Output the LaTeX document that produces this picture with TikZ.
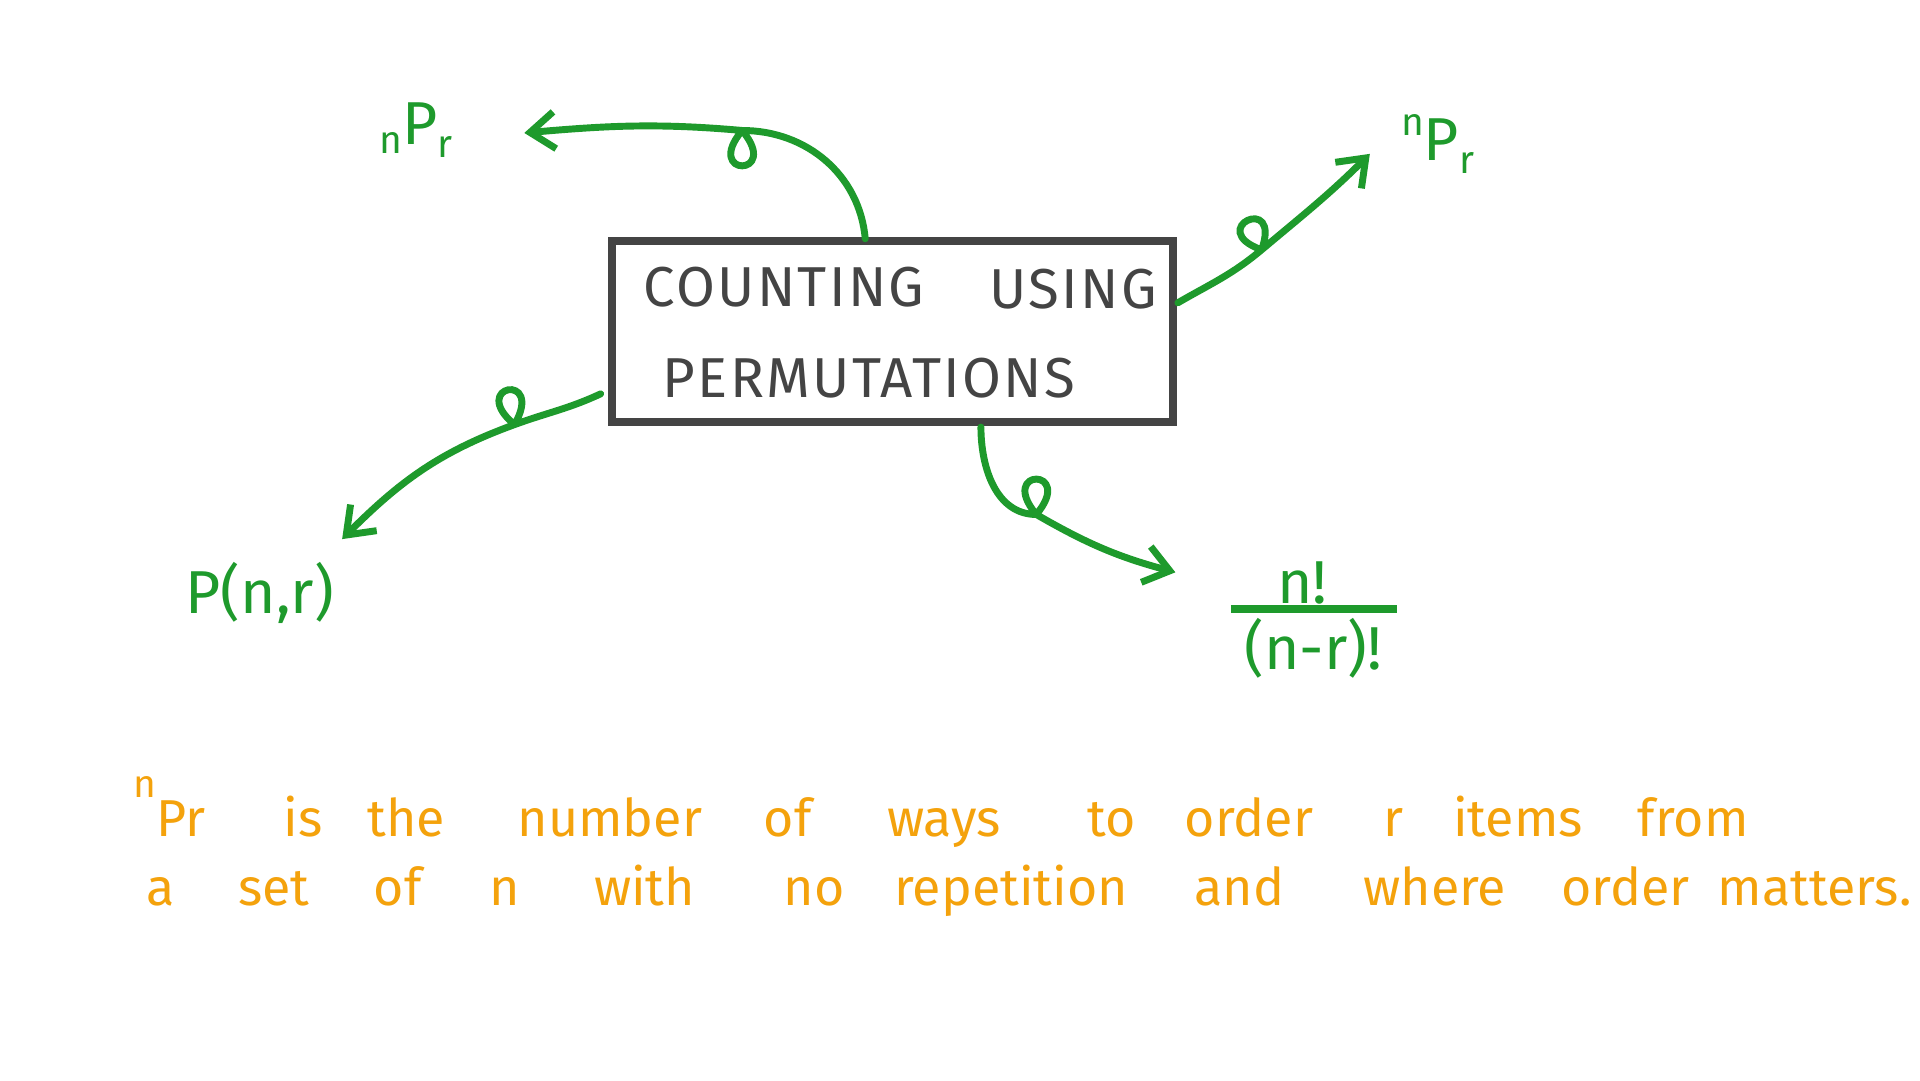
\documentclass[tikz,border=0pt]{standalone}
\usepackage{fontspec}
\setmainfont{Fira Sans}
\usetikzlibrary{arrows.meta}
\definecolor{gr}{HTML}{1E9A2C}
\definecolor{orng}{HTML}{F4A20C}
\definecolor{boxgray}{HTML}{444444}
\tikzset{
  conn/.style={gr, line width=1.6pt, line cap=round, -{Straight Barb[length=2mm,width=3mm]}},
  lbl/.style={gr, font=\fontsize{14}{16}\selectfont},
  boxtxt/.style={boxgray, font=\fontsize{13}{15}\selectfont\addfontfeature{LetterSpace=4}},
  word/.style={orng, anchor=base west, inner sep=0pt, font=\fontsize{12}{14}\selectfont},
  lp/.style={min distance=5mm}
}
\begin{document}
\begin{tikzpicture}[x=0.01cm,y=-0.01cm]
\useasboundingbox[fill=white] (0,0) rectangle (1560,878);
\draw[boxgray, line width=1.8pt] (497,196) rectangle (953,343);
\node[boxtxt] (t1) at (637,233) {COUNTING};
\node[boxtxt] (t2) at (872,235) {USING};
\node[boxtxt] (t3) at (706,307) {PERMUTATIONS};
\coordinate (bt) at (703,194);
\coordinate (br) at (957,246);
\coordinate (bl) at (488,320);
\coordinate (bb) at (797,347);
\coordinate (p1) at (603,106);
\coordinate (p2) at (1025,203);
\coordinate (p3) at (418,345);
\coordinate (p4) at (842,418);
\node[lbl] (l1) at (338,106) {\raisebox{-2pt}{\small n}P\raisebox{-3pt}{\small r}};
\node[lbl] (l2) at (1168,117) {\raisebox{6pt}{\small n}P\raisebox{-3pt}{\small r}};
\node[lbl] (l3) at (211,482) {P(n,r)};
\node[lbl] (l4n) at (1058,474) {n!};
\node[lbl] (l4d) at (1067,527) {(n-r)!};
\draw[gr, line width=1.8pt] (1000,495) -- (1135,495);
\coordinate (a1) at (426,108);
\coordinate (a2) at (1113,125);
\coordinate (a3) at (278,438);
\coordinate (a4) at (955,465);
\draw[conn] (bt) to[out=95,in=0] (p1) to[out=230,in=310,lp] (p1) to[out=175,in=5] (a1);
\draw[conn] (br) to[out=30,in=220] (p2) to[out=70,in=160,lp] (p2) to[out=40,in=225] (a2);
\draw[conn] (bl) to[out=205,in=20] (p3) to[out=140,in=60,lp] (p3) to[out=200,in=45] (a3);
\draw[conn] (bb) to[out=270,in=180] (p4) to[out=50,in=130,lp] (p4) to[out=330,in=165] (a4);
% orange text
\node[word] (w1) at (108,680) {\raisebox{9pt}{\small n}Pr};
\node[word] (w2) at (230,680) {is};
\node[word] (w3) at (298,680) {the};
\node[word] (w4) at (420,680) {number};
\node[word] (w5) at (620,680) {of};
\node[word] (w6) at (720,680) {ways};
\node[word] (w7) at (883,680) {to};
\node[word] (w8) at (962,680) {order};
\node[word] (w9) at (1123,680) {r};
\node[word] (w10) at (1180,680) {items};
\node[word] (w11) at (1330,680) {from};
\node[word] (v1) at (118,736) {a};
\node[word] (v2) at (193,736) {set};
\node[word] (v3) at (303,736) {of};
\node[word] (v4) at (397,736) {n};
\node[word] (v5) at (482,736) {with};
\node[word] (v6) at (636,736) {no};
\node[word] (v7) at (726,736) {repetition};
\node[word] (v8) at (970,736) {and};
\node[word] (v9) at (1107,736) {where};
\node[word] (v10) at (1268,736) {order};
\node[word] (v11) at (1395,736) {matters.};
\end{tikzpicture}
\end{document}
